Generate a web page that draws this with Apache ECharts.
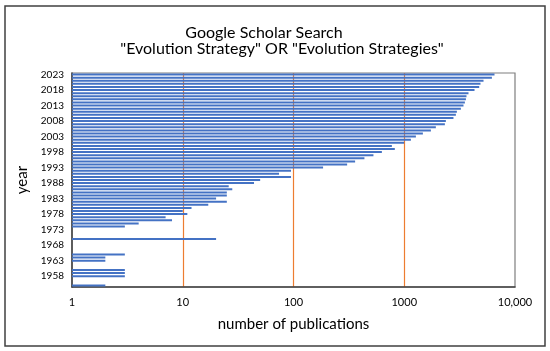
<!DOCTYPE html>
<html>
<head>
<meta charset="utf-8">
<script src="https://cdn.jsdelivr.net/npm/echarts@6/dist/echarts.min.js"></script>
<style>
html,body{margin:0;padding:0;background:#fff;}
#chart{width:550px;height:351px;}
</style>
</head>
<body>
<div id="chart"></div>
<script>
// Years (categories), bottom to top
const years = [];
for (let y = 1955; y <= 2023; y++) years.push(String(y));

// Number of publications per year (null = no bar)
const publications = [
  2, null, null, 3, 3, 3, null, null, 2, 2,        // 1955-1964
  3, null, null, null, null, 20, null, null, null, 3, // 1965-1974
  4, 8, 7, 11, 10, 12, 17, 25, 20, 25,             // 1975-1984
  25, 28, 26, 44, 50, 95, 74, 95, 185, 305,        // 1985-1994
  360, 437, 527, 628, 822, 773, 998, 1148, 1274, 1473, // 1995-2004
  1740, 1929, 2327, 2375, 2782, 2925, 2986, 3246, 3427, 3527, // 2005-2014
  3604, 3648, 3803, 4310, 4750, 4880, 5197, 6185, 6530 // 2015-2023
];

const xTicks = [1, 10, 100, 1000, 10000];
const xTickLabels = ['1', '10', '100', '1000', '10,000'];

const titleLine1 = 'Google Scholar Search';
const titleLine2 = '"Evolution Strategy" OR "Evolution Strategies"';

const FONT = 'Lato, "Open Sans", sans-serif';

const chart = echarts.init(document.getElementById('chart'));
chart.setOption({
  backgroundColor: '#ffffff',
  animation: false,
  grid: {
    left: 72, right: 35, top: 73, bottom: 64,
    show: true, borderColor: '#7f7f7f', borderWidth: 1.2, backgroundColor: 'transparent'
  },
  xAxis: {
    type: 'log',
    logBase: 10,
    min: 1,
    max: 10000,
    name: 'number of publications',
    nameLocation: 'middle',
    nameGap: 30,
    nameTextStyle: { fontFamily: FONT, fontSize: 15, color: '#000' },
    axisLine: { show: true, lineStyle: { color: '#404040', width: 1.5 } },
    axisTick: { show: false },
    axisLabel: {
      fontFamily: FONT, fontSize: 11, color: '#000', margin: 10,
      formatter: function (v) {
        const i = xTicks.indexOf(Math.round(v));
        return i >= 0 ? xTickLabels[i] : '';
      }
    },
    splitLine: {
      show: true, showMinLine: false, showMaxLine: false,
      lineStyle: { color: '#ED7D31', width: 1.2 }
    }
  },
  yAxis: {
    type: 'category',
    data: years,
    name: 'year',
    nameLocation: 'middle',
    nameGap: 42,
    nameRotate: 90,
    nameTextStyle: { fontFamily: FONT, fontSize: 15, color: '#000' },
    axisLine: { show: true, lineStyle: { color: '#404040', width: 1.5 } },
    axisTick: { show: false },
    axisLabel: {
      fontFamily: FONT, fontSize: 10, color: '#000', margin: 8,
      interval: function (index, value) { return (2023 - Number(value)) % 5 === 0; }
    },
    splitLine: { show: false }
  },
  series: [{
    type: 'bar',
    data: publications,
    barWidth: 2,
    itemStyle: { color: '#4472C4' },
    silent: true
  }],
  graphic: [
    {
      type: 'rect', z: -1, silent: true,
      shape: { x: 5, y: 6, width: 540, height: 340 },
      style: { fill: 'none', stroke: '#404040', lineWidth: 1.5 }
    },
    {
      type: 'text', silent: true,
      x: 264, y: 33,
      style: { text: titleLine1, font: '16px ' + FONT, fill: '#000',
               textAlign: 'center', textVerticalAlign: 'middle', align: 'center', verticalAlign: 'middle' }
    },
    {
      type: 'text', silent: true,
      x: 282, y: 49,
      style: { text: titleLine2, font: '16px ' + FONT, fill: '#000',
               textAlign: 'center', textVerticalAlign: 'middle', align: 'center', verticalAlign: 'middle' }
    }
  ]
});
</script>
</body>
</html>
